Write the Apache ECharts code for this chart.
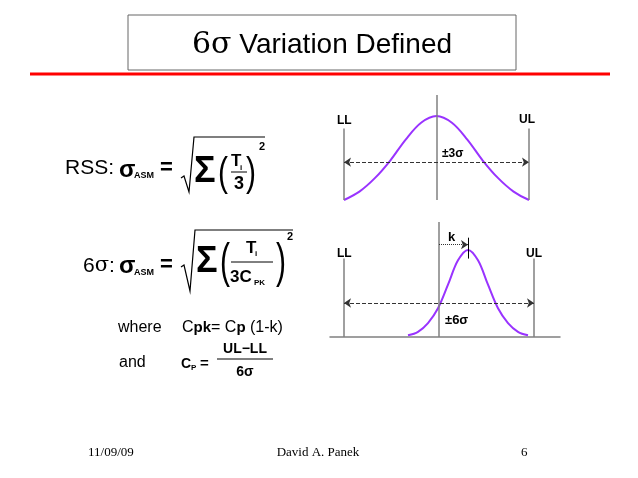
<!DOCTYPE html>
<html>
<head>
<meta charset="UTF-8">
<script src="https://cdn.jsdelivr.net/npm/echarts@6/dist/echarts.min.js"></script>
<style>
  html, body { margin: 0; padding: 0; background: #fff; }
  #chart { width: 638px; height: 478px; }
</style>
</head>
<body>
<div id="chart"></div>
<script>
// top curve: ±3σ inside limits
var topX = [-3, -2.5, -2, -1.5, -1, -0.5, 0, 0.5, 1, 1.5, 2, 2.5, 3];
var topY = [0, 0.1, 0.26, 0.47, 0.72, 0.92, 1, 0.92, 0.72, 0.47, 0.26, 0.1, 0];
// bottom curve: ±6σ, mean shifted by k
var botX = [-1.55, -1.05, -0.55, -0.05, 0.45, 0.95, 1.45, 1.95, 2.45, 2.95, 3.45, 3.95, 4.45];
var botY = [0.02, 0.06, 0.16, 0.33, 0.6, 0.88, 1, 0.88, 0.6, 0.33, 0.16, 0.06, 0.02];
var limitsTop = [-3, 3];
var limitsBot = [-4.75, 4.75];
var kMean = 1.45;

var purple = '#9933ff';
var gray = '#808080';
var font = 'Arial, "Liberation Sans", sans-serif';

function pairs(xs, ys) { return xs.map(function (x, i) { return [x, ys[i]]; }); }
function vline(x, y0, y1) { return [{ coord: [x, y0] }, { coord: [x, y1] }]; }

function txt(x, y, s, size, bold, extra) {
  var o = { type: 'text', x: x, y: y, style: { text: s, fontSize: size, fontFamily: font, fontWeight: bold ? 'bold' : 'normal', fill: '#000', verticalAlign: 'middle' } };
  if (extra) for (var k in extra) o.style[k] = extra[k];
  return o;
}
function paren(x, y, s, h) {
  return { type: 'text', x: x, y: y, scaleY: h, style: { text: s, fontSize: 30, fontFamily: font, fill: '#000', verticalAlign: 'middle' } };
}
function seg(pts, w) {
  return { type: 'polyline', shape: { points: pts }, style: { stroke: '#000', lineWidth: w || 1.2, fill: null } };
}

var chart = echarts.init(document.getElementById('chart'));
chart.setOption({
  animation: false,
  grid: [
    { left: 344, top: 95, width: 185, height: 105 },
    { left: 330, top: 222, width: 230, height: 115 }
  ],
  xAxis: [
    { gridIndex: 0, type: 'value', min: -3, max: 3, show: false },
    { gridIndex: 1, type: 'value', min: -5.45, max: 6.05, axisLine: { show: true, onZero: false, lineStyle: { color: gray, width: 1.5 } }, axisTick: { show: false }, axisLabel: { show: false }, splitLine: { show: false } }
  ],
  yAxis: [
    { gridIndex: 0, type: 'value', min: 0, max: 1.25, show: false },
    { gridIndex: 1, type: 'value', min: 0, max: 1.32, show: false }
  ],
  series: [
    {
      type: 'line', xAxisIndex: 0, yAxisIndex: 0, data: pairs(topX, topY), smooth: 0.35,
      showSymbol: false, lineStyle: { color: purple, width: 2 },
      markLine: {
        silent: true, symbol: 'none', label: { show: false },
        lineStyle: { color: gray, type: 'solid', width: 1.5 },
        data: [vline(limitsTop[0], 0, 0.85), vline(limitsTop[1], 0, 0.85), vline(0, 0, 1.25),
          [{ coord: [limitsTop[0], 0.45], symbol: 'arrow', lineStyle: { type: 'dashed', color: '#333', width: 1 } },
           { coord: [limitsTop[1], 0.45], symbol: 'arrow' }]],
        symbolSize: 7
      }
    },
    {
      type: 'line', xAxisIndex: 1, yAxisIndex: 1, data: pairs(botX, botY), smooth: 0.35,
      showSymbol: false, lineStyle: { color: purple, width: 2 },
      markLine: {
        silent: true, symbol: 'none', label: { show: false },
        lineStyle: { color: gray, type: 'solid', width: 1.5 },
        symbolSize: 7,
        data: [vline(limitsBot[0], 0, 0.9), vline(limitsBot[1], 0, 0.9), vline(0, 0, 1.32),
          [{ coord: [kMean, 0.9], lineStyle: { color: '#000', width: 1 } }, { coord: [kMean, 1.14] }],
          [{ coord: [0, 1.06], symbol: 'none', lineStyle: { type: 'dotted', color: '#333', width: 1 } },
           { coord: [kMean, 1.06], symbol: 'arrow' }],
          [{ coord: [limitsBot[0], 0.39], symbol: 'arrow', lineStyle: { type: 'dashed', color: '#333', width: 1 } },
           { coord: [limitsBot[1], 0.39], symbol: 'arrow' }]]
      }
    }
  ],
  graphic: [
    { type: 'rect', shape: { x: 128, y: 15, width: 388, height: 55 }, style: { fill: '#fff', stroke: '#666', lineWidth: 1 } },
    { type: 'line', shape: { x1: 30, y1: 74, x2: 610, y2: 74 }, style: { stroke: '#ff0000', lineWidth: 3 } },
    txt(322, 45, '{s|6σ} Variation Defined', 28, false, { align: 'center', rich: { s: { fontFamily: '"DejaVu Serif", serif', fontSize: 30 } } }),

    // RSS formula
    txt(65, 168, 'RSS:', 21),
    txt(119, 170, 'σ', 24, true),
    txt(134, 176, 'ASM', 9, true),
    txt(160, 168, '=', 22, true),
    seg([[181, 178], [184, 176], [189, 192], [194, 137], [265, 137]]),
    txt(194, 172, 'Σ', 36, true),
    paren(218, 175, '(', 1.35),
    paren(246, 175, ')', 1.35),
    txt(231, 161, 'T', 17, true),
    txt(240, 168, 'i', 8, true),
    seg([[231, 172], [247, 172]], 1),
    txt(234, 184, '3', 18, true),
    txt(259, 147, '2', 11, true),

    // 6 sigma formula
    txt(83, 266, '6{s|σ}:', 21, false, { rich: { s: { fontFamily: '"DejaVu Serif", serif', fontSize: 21 } } }),
    txt(119, 266, 'σ', 24, true),
    txt(134, 273, 'ASM', 9, true),
    txt(160, 265, '=', 22, true),
    seg([[181, 267], [184, 265], [190, 291], [195, 230], [293, 230]]),
    txt(196, 262, 'Σ', 36, true),
    paren(220, 264, '(', 1.6),
    paren(276, 264, ')', 1.6),
    txt(246, 248, 'T', 17, true),
    txt(255, 254, 'i', 8, true),
    seg([[231, 262], [273, 262]], 1),
    txt(230, 277, '3C', 17, true),
    txt(254, 283, 'PK', 8, true),
    txt(287, 237, '2', 11, true),

    // where / and
    txt(118, 328, 'where', 16),
    txt(182, 328, 'C{b|pk}= C{b|p} (1-k)', 16, false, { rich: { b: { fontSize: 15, fontWeight: 'bold', fontFamily: font } } }),
    txt(119, 363, 'and', 16),
    txt(181, 364, 'C', 14, true),
    txt(191, 368, 'P', 8, true),
    txt(200, 364, '=', 15, true),
    txt(245, 349, 'UL−LL', 14, true, { align: 'center' }),
    seg([[217, 359], [273, 359]], 1),
    txt(245, 372, '6σ', 14, true, { align: 'center' }),

    // curve labels
    txt(337, 121, 'LL', 12, true),
    txt(519, 120, 'UL', 12, true),
    txt(442, 154, '±3σ', 12, true),
    txt(337, 254, 'LL', 12, true),
    txt(526, 254, 'UL', 12, true),
    txt(448, 237, 'k', 13, true),
    txt(445, 320, '±6σ', 13, true),

    // footer
    txt(88, 453, '11/09/09', 13, false, { fontFamily: '"Liberation Serif", serif' }),
    txt(318, 453, 'David A. Panek', 13, false, { fontFamily: '"Liberation Serif", serif', align: 'center' }),
    txt(521, 453, '6', 13, false, { fontFamily: '"Liberation Serif", serif' })
  ]
});
</script>
</body>
</html>
